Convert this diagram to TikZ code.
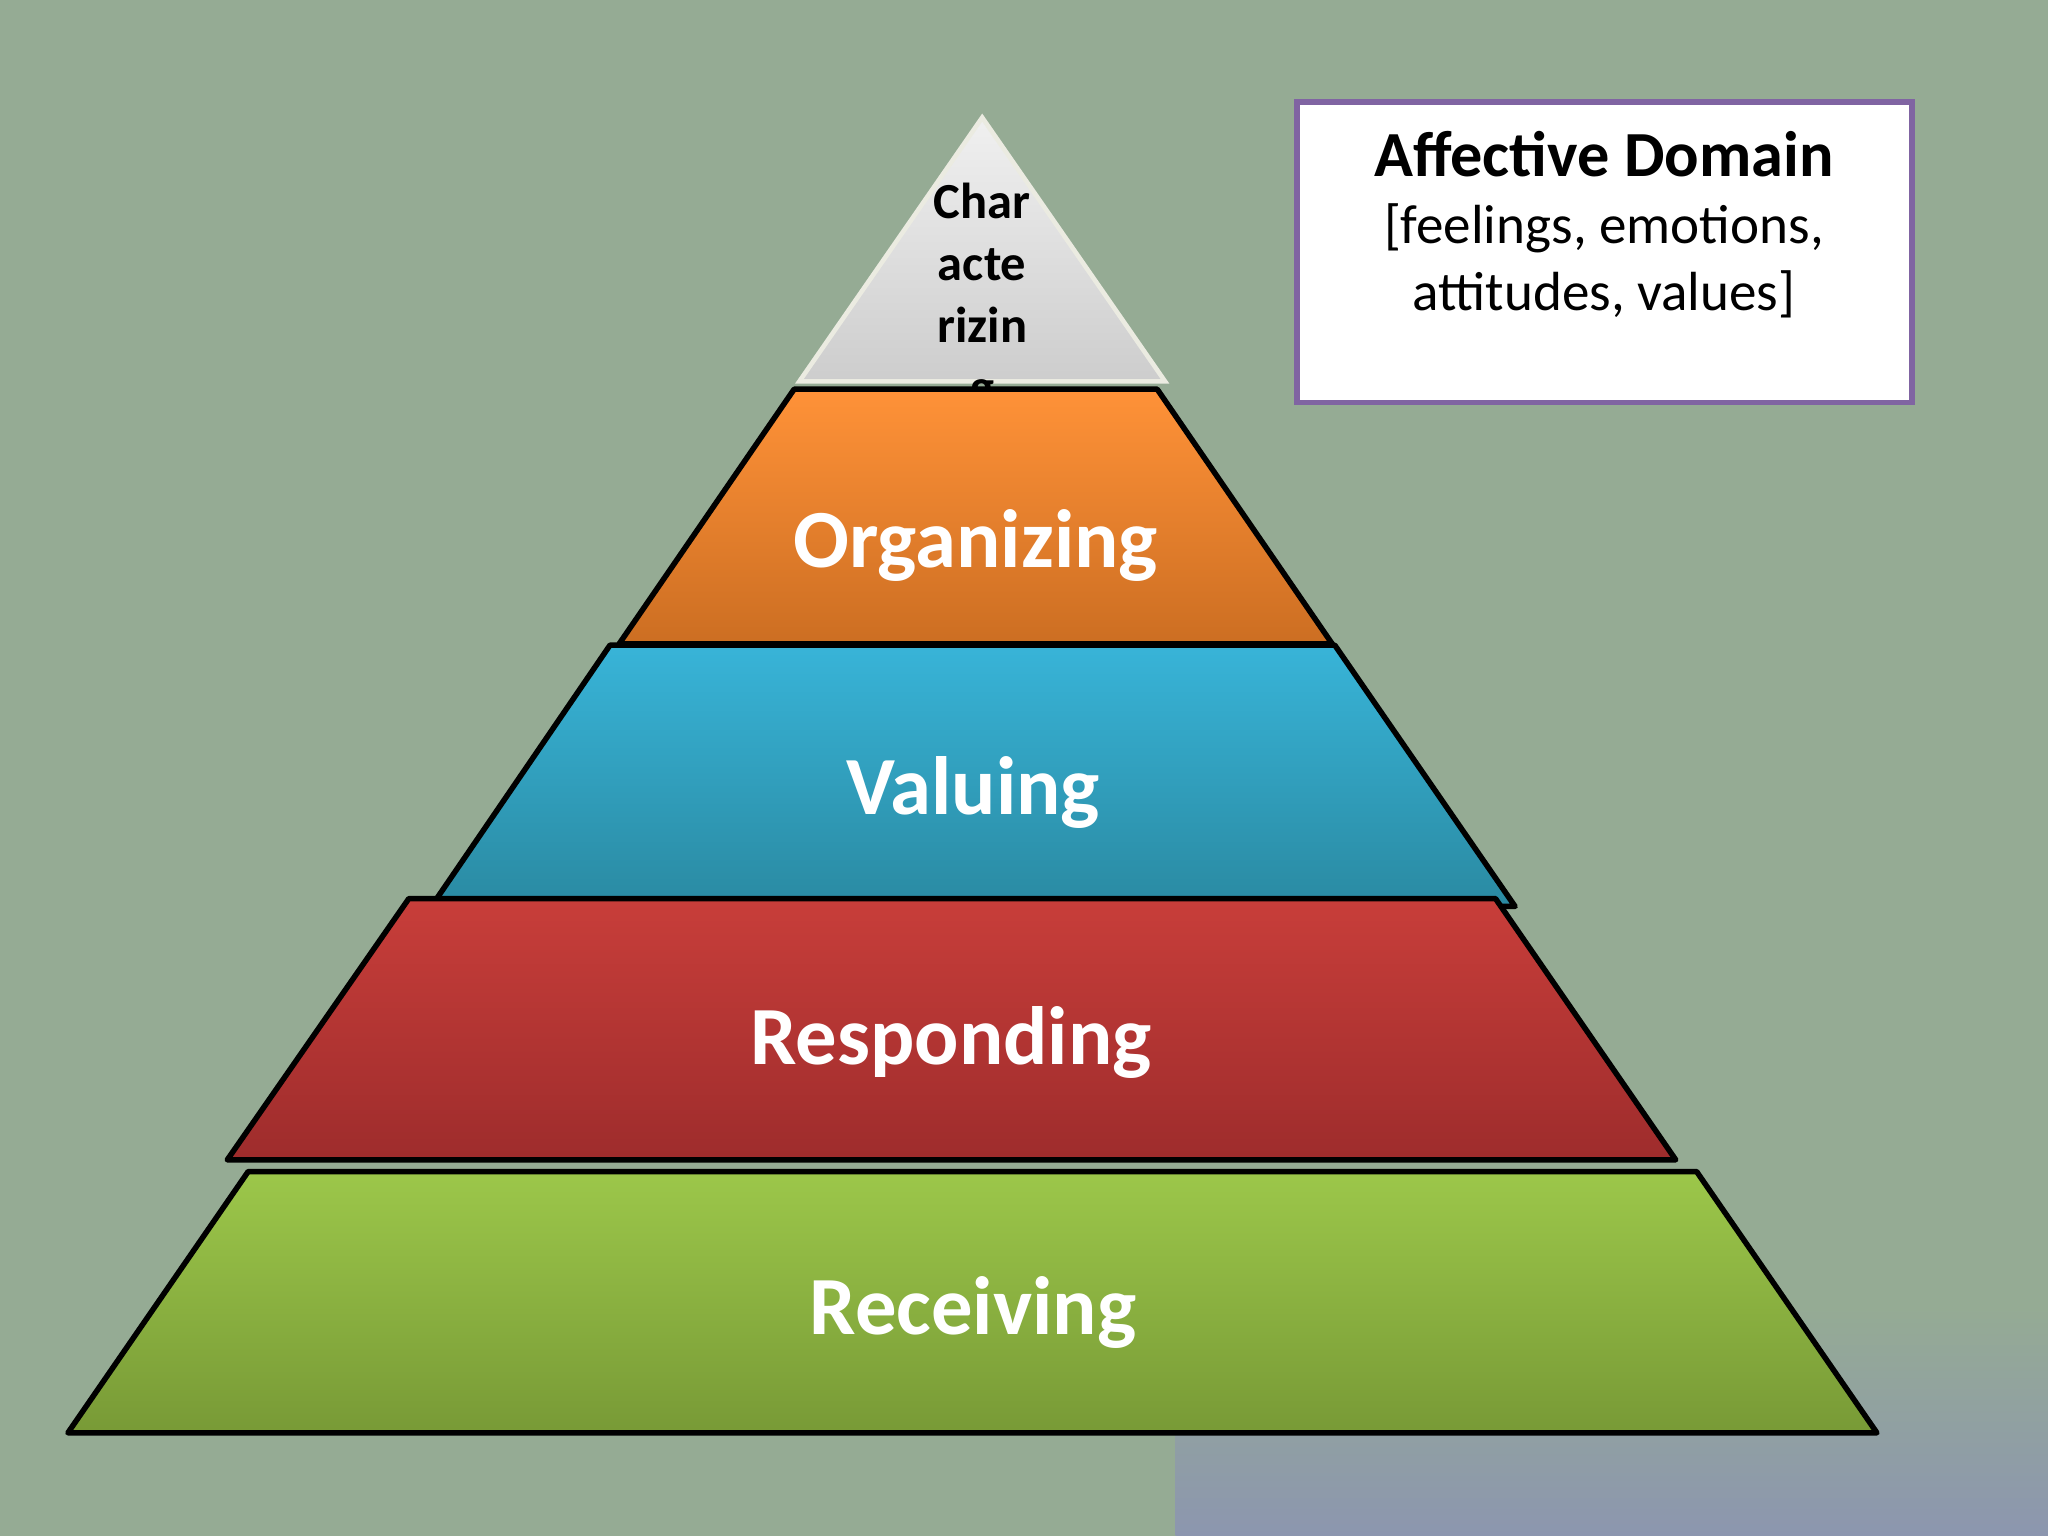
\documentclass[tikz,border=0pt]{standalone}
\usepackage{fontspec}
\setmainfont{Carlito}
\begin{document}
\begin{tikzpicture}[x=0.01cm,y=-0.01cm,
  layer/.style={draw=black,line width=1.2pt,line join=round},
  lbl/.style={text=white,font=\bfseries\fontsize{18}{20}\selectfont}]
\useasboundingbox (0,0) rectangle (1568,1176);
\fill[color={rgb,255:red,149;green,171;blue,148}] (0,0) rectangle (1568,1176);
\shade[top color={rgb,255:red,149;green,171;blue,148},bottom color={rgb,255:red,140;green,150;blue,175}] (900,1000) rectangle (1568,1176);
% top triangle
\shade[top color={rgb,255:red,240;green,240;blue,240},bottom color={rgb,255:red,205;green,205;blue,205},draw={rgb,255:red,235;green,235;blue,225},line width=1pt] (752,90) -- (892,292) -- (612,292) -- cycle;
\node[align=center,font=\bfseries\fontsize{11}{13.5}\selectfont] (top) at (752,228) {Char\\acte\\rizin\\g};
% organizing
\shade[layer,top color={rgb,255:red,255;green,146;blue,56},bottom color={rgb,255:red,204;green,110;blue,34}] (608,298) -- (886,298) -- (1020,493) -- (474,493) -- cycle;
\node[lbl] (org) at (747,418) {Organizing};
% valuing
\shade[layer,top color={rgb,255:red,56;green,180;blue,216},bottom color={rgb,255:red,42;green,138;blue,162}] (467,494) -- (1022,494) -- (1160,694) -- (333,690) -- cycle;
\node[lbl] (val) at (745,607) {Valuing};
% responding
\shade[layer,top color={rgb,255:red,200;green,62;blue,58},bottom color={rgb,255:red,158;green,44;blue,44}] (313,688) -- (1145,688) -- (1283,888) -- (174,888) -- cycle;
\node[lbl] (resp) at (728,798) {Responding};
% receiving
\shade[layer,top color={rgb,255:red,156;green,199;blue,74},bottom color={rgb,255:red,120;green,154;blue,54}] (190,897) -- (1299,897) -- (1437,1097) -- (52,1097) -- cycle;
\node[lbl] (rec) at (745,1005) {Receiving};
% box
\draw[fill=white,draw={rgb,255:red,128;green,100;blue,162},line width=1.2pt] (993,78) rectangle (1464,308);
\node[align=center,font=\fontsize{12}{14.5}\selectfont] (box) at (1228,172) {\textbf{\fontsize{14}{16}\selectfont Affective Domain}\\{[feelings, emotions,}\\attitudes, values]};
\end{tikzpicture}
\end{document}
